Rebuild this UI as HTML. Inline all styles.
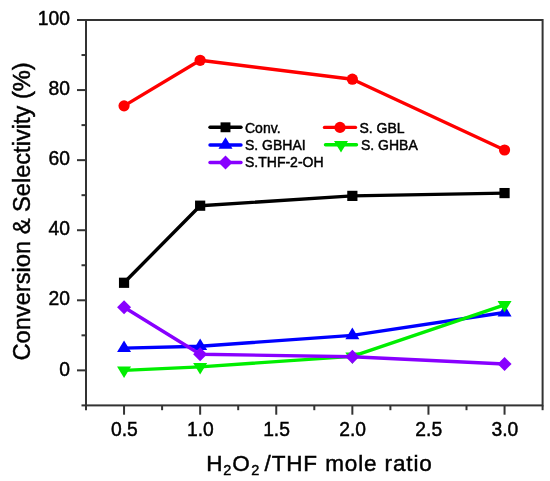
<!DOCTYPE html>
<html><head><meta charset="utf-8"><style>
html,body{margin:0;padding:0;background:#fff;}
svg{display:block;}
text{font-family:"Liberation Sans",Arial,sans-serif;fill:#000000;stroke:#000000;stroke-width:0.45px;}
</style></head><body>
<svg width="550" height="481" viewBox="0 0 550 481">
<rect x="86" y="20" width="456.6" height="385.4" fill="none" stroke="#333333" stroke-width="2.0"/>
<line x1="81.5" y1="405.40" x2="86" y2="405.40" stroke="#333333" stroke-width="2.0"/>
<line x1="77" y1="370.36" x2="86" y2="370.36" stroke="#333333" stroke-width="2.0"/>
<line x1="81.5" y1="335.33" x2="86" y2="335.33" stroke="#333333" stroke-width="2.0"/>
<line x1="77" y1="300.29" x2="86" y2="300.29" stroke="#333333" stroke-width="2.0"/>
<line x1="81.5" y1="265.25" x2="86" y2="265.25" stroke="#333333" stroke-width="2.0"/>
<line x1="77" y1="230.22" x2="86" y2="230.22" stroke="#333333" stroke-width="2.0"/>
<line x1="81.5" y1="195.18" x2="86" y2="195.18" stroke="#333333" stroke-width="2.0"/>
<line x1="77" y1="160.15" x2="86" y2="160.15" stroke="#333333" stroke-width="2.0"/>
<line x1="81.5" y1="125.11" x2="86" y2="125.11" stroke="#333333" stroke-width="2.0"/>
<line x1="77" y1="90.07" x2="86" y2="90.07" stroke="#333333" stroke-width="2.0"/>
<line x1="81.5" y1="55.04" x2="86" y2="55.04" stroke="#333333" stroke-width="2.0"/>
<line x1="77" y1="20.00" x2="86" y2="20.00" stroke="#333333" stroke-width="2.0"/>
<line x1="86.00" y1="405.4" x2="86.00" y2="410.2" stroke="#333333" stroke-width="2.0"/>
<line x1="124.05" y1="405.4" x2="124.05" y2="414.7" stroke="#333333" stroke-width="2.0"/>
<line x1="162.10" y1="405.4" x2="162.10" y2="410.2" stroke="#333333" stroke-width="2.0"/>
<line x1="200.15" y1="405.4" x2="200.15" y2="414.7" stroke="#333333" stroke-width="2.0"/>
<line x1="238.20" y1="405.4" x2="238.20" y2="410.2" stroke="#333333" stroke-width="2.0"/>
<line x1="276.25" y1="405.4" x2="276.25" y2="414.7" stroke="#333333" stroke-width="2.0"/>
<line x1="314.30" y1="405.4" x2="314.30" y2="410.2" stroke="#333333" stroke-width="2.0"/>
<line x1="352.35" y1="405.4" x2="352.35" y2="414.7" stroke="#333333" stroke-width="2.0"/>
<line x1="390.40" y1="405.4" x2="390.40" y2="410.2" stroke="#333333" stroke-width="2.0"/>
<line x1="428.45" y1="405.4" x2="428.45" y2="414.7" stroke="#333333" stroke-width="2.0"/>
<line x1="466.50" y1="405.4" x2="466.50" y2="410.2" stroke="#333333" stroke-width="2.0"/>
<line x1="504.55" y1="405.4" x2="504.55" y2="414.7" stroke="#333333" stroke-width="2.0"/>
<line x1="542.60" y1="405.4" x2="542.60" y2="410.2" stroke="#333333" stroke-width="2.0"/>
<text x="70.00" y="375.56" font-size="19.3" text-anchor="end">0</text>
<text x="70.00" y="305.49" font-size="19.3" text-anchor="end">20</text>
<text x="70.00" y="235.42" font-size="19.3" text-anchor="end">40</text>
<text x="70.00" y="165.35" font-size="19.3" text-anchor="end">60</text>
<text x="70.00" y="95.27" font-size="19.3" text-anchor="end">80</text>
<text x="70.00" y="25.20" font-size="19.3" text-anchor="end">100</text>
<text x="124.35" y="436.30" font-size="19.3" text-anchor="middle">0.5</text>
<text x="200.45" y="436.30" font-size="19.3" text-anchor="middle">1.0</text>
<text x="276.55" y="436.30" font-size="19.3" text-anchor="middle">1.5</text>
<text x="352.65" y="436.30" font-size="19.3" text-anchor="middle">2.0</text>
<text x="428.75" y="436.30" font-size="19.3" text-anchor="middle">2.5</text>
<text x="504.85" y="436.30" font-size="19.3" text-anchor="middle">3.0</text>
<text x="206.30" y="471.00" font-size="22.5">H</text>
<text x="223.30" y="474.50" font-size="14.5">2</text>
<text x="232.30" y="471.00" font-size="22.5">O</text>
<text x="251.30" y="474.50" font-size="14.5">2</text>
<text x="264.50" y="471.00" font-size="22.5" textLength="167.3" lengthAdjust="spacing">/THF mole ratio</text>
<text transform="translate(30.3,360.5) rotate(-90)" font-size="23.65">Conversion &amp; Selectivity (%)</text>
<polyline points="124.05,282.77 200.15,205.69 352.35,195.88 504.55,193.08" fill="none" stroke="#000000" stroke-width="3.4" stroke-linejoin="round"/>
<rect x="118.95" y="277.67" width="10.20" height="10.20" fill="#000000"/>
<rect x="195.05" y="200.59" width="10.20" height="10.20" fill="#000000"/>
<rect x="347.25" y="190.78" width="10.20" height="10.20" fill="#000000"/>
<rect x="499.45" y="187.98" width="10.20" height="10.20" fill="#000000"/>
<polyline points="124.05,105.84 200.15,60.29 352.35,79.21 504.55,149.98" fill="none" stroke="#ff0000" stroke-width="3.4" stroke-linejoin="round"/>
<circle cx="124.05" cy="105.84" r="5.60" fill="#ff0000"/>
<circle cx="200.15" cy="60.29" r="5.60" fill="#ff0000"/>
<circle cx="352.35" cy="79.21" r="5.60" fill="#ff0000"/>
<circle cx="504.55" cy="149.98" r="5.60" fill="#ff0000"/>
<polyline points="124.05,348.12 200.15,346.19 352.35,335.33 504.55,312.55" fill="none" stroke="#0000ff" stroke-width="3.4" stroke-linejoin="round"/>
<polygon points="124.05,340.38 131.05,351.98 117.05,351.98" fill="#0000ff"/>
<polygon points="200.15,338.46 207.15,350.06 193.15,350.06" fill="#0000ff"/>
<polygon points="352.35,327.59 359.35,339.19 345.35,339.19" fill="#0000ff"/>
<polygon points="504.55,304.82 511.55,316.42 497.55,316.42" fill="#0000ff"/>
<polyline points="124.05,370.36 200.15,366.86 352.35,356.35 504.55,304.85" fill="none" stroke="#00ee00" stroke-width="3.4" stroke-linejoin="round"/>
<polygon points="117.05,366.50 131.05,366.50 124.05,378.10" fill="#00ee00"/>
<polygon points="193.15,362.99 207.15,362.99 200.15,374.59" fill="#00ee00"/>
<polygon points="345.35,352.48 359.35,352.48 352.35,364.08" fill="#00ee00"/>
<polygon points="497.55,300.98 511.55,300.98 504.55,312.58" fill="#00ee00"/>
<polyline points="124.05,307.30 200.15,354.25 352.35,356.70 504.55,364.06" fill="none" stroke="#8800ff" stroke-width="3.4" stroke-linejoin="round"/>
<polygon points="124.05,300.30 131.05,307.30 124.05,314.30 117.05,307.30" fill="#8800ff"/>
<polygon points="200.15,347.25 207.15,354.25 200.15,361.25 193.15,354.25" fill="#8800ff"/>
<polygon points="352.35,349.70 359.35,356.70 352.35,363.70 345.35,356.70" fill="#8800ff"/>
<polygon points="504.55,357.06 511.55,364.06 504.55,371.06 497.55,364.06" fill="#8800ff"/>
<line x1="210.0" y1="127.3" x2="241.0" y2="127.3" stroke="#000000" stroke-width="3.4" stroke-linecap="round"/>
<rect x="220.55" y="122.35" width="9.89" height="9.89" fill="#000000"/>
<text x="245.00" y="132.50" font-size="14">Conv.</text>
<line x1="210.0" y1="145.0" x2="241.0" y2="145.0" stroke="#0000ff" stroke-width="3.4" stroke-linecap="round"/>
<polygon points="225.50,137.27 232.50,148.87 218.50,148.87" fill="#0000ff"/>
<text x="245.00" y="149.80" font-size="14">S. GBHAI</text>
<line x1="210.0" y1="162.5" x2="241.0" y2="162.5" stroke="#8800ff" stroke-width="3.4" stroke-linecap="round"/>
<polygon points="225.50,155.50 232.50,162.50 225.50,169.50 218.50,162.50" fill="#8800ff"/>
<text x="245.00" y="167.20" font-size="14">S.THF-2-OH</text>
<line x1="324.5" y1="127.4" x2="355.5" y2="127.4" stroke="#ff0000" stroke-width="3.4" stroke-linecap="round"/>
<circle cx="340.00" cy="127.40" r="5.60" fill="#ff0000"/>
<text x="359.50" y="132.50" font-size="14">S. GBL</text>
<line x1="325.5" y1="144.8" x2="356.5" y2="144.8" stroke="#00ee00" stroke-width="3.4" stroke-linecap="round"/>
<polygon points="334.00,140.93 348.00,140.93 341.00,152.53" fill="#00ee00"/>
<text x="361.00" y="149.80" font-size="14">S. GHBA</text>
</svg>
</body></html>
